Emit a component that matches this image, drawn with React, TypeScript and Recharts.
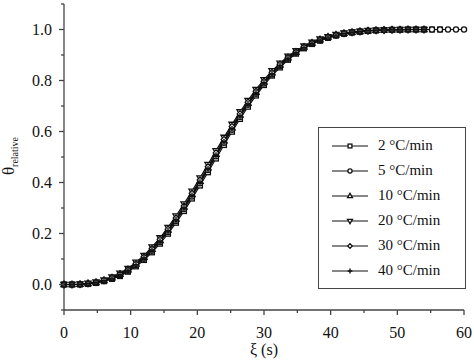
import { LineChart, Line, XAxis, YAxis, Legend } from "recharts"

const XS = [
  0, 1.2, 2.4, 3.6, 4.8, 6, 7.2, 8.4, 9.6, 10.8, 12, 13.2, 14.4, 15.6, 16.8, 18, 19.2, 20.4, 21.6, 22.8, 24, 25.2,
  26.4, 27.6, 28.8, 30, 31.2, 32.4, 33.6, 34.8, 36, 37.2, 38.4, 39.6, 40.8, 42, 43.2, 44.4, 45.6, 46.8, 48, 49.2,
  50.4, 51.6, 52.8, 54, 55.2, 56.4, 57.6, 58.8, 60,
]

// theta_relative per heating rate
const S2 = [
  0, 0, 0, 0.002, 0.006, 0.013, 0.022, 0.033, 0.05, 0.071, 0.096, 0.126, 0.16, 0.199, 0.242, 0.288, 0.337, 0.388,
  0.44, 0.494, 0.547, 0.599, 0.649, 0.697, 0.741, 0.782, 0.819, 0.851, 0.881, 0.905, 0.926, 0.943, 0.956, 0.967,
  0.976, 0.983, 0.988, 0.991, 0.994, 0.996, 0.998, 0.999, 0.999, 1, 1, 1, 1, 1,
]
const S5 = [
  0, 0, 0.001, 0.003, 0.007, 0.014, 0.024, 0.036, 0.054, 0.076, 0.101, 0.132, 0.167, 0.206, 0.249, 0.296, 0.345,
  0.397, 0.449, 0.503, 0.556, 0.607, 0.657, 0.705, 0.748, 0.788, 0.824, 0.857, 0.885, 0.909, 0.929, 0.945, 0.958,
  0.969, 0.977, 0.984, 0.988, 0.992, 0.995, 0.997, 0.998, 0.999, 0.999, 1, 1, 1, 1, 1, 1, 1, 1,
]
const S10 = [
  0, 0, 0.001, 0.004, 0.008, 0.016, 0.026, 0.04, 0.058, 0.08, 0.107, 0.138, 0.173, 0.214, 0.257, 0.304, 0.353,
  0.405, 0.458, 0.511, 0.564, 0.615, 0.665, 0.711, 0.754, 0.794, 0.83, 0.861, 0.889, 0.911, 0.931, 0.947, 0.96,
  0.971, 0.979, 0.985, 0.989, 0.992, 0.995, 0.997, 0.998, 0.999, 0.999, 1, 1, 1,
]
const S20 = [
  0, 0, 0.002, 0.005, 0.01, 0.018, 0.029, 0.044, 0.063, 0.087, 0.114, 0.147, 0.183, 0.224, 0.269, 0.316, 0.366,
  0.418, 0.471, 0.525, 0.577, 0.628, 0.677, 0.722, 0.765, 0.803, 0.838, 0.868, 0.895, 0.917, 0.935, 0.95, 0.963,
  0.972, 0.98, 0.986, 0.99, 0.993, 0.996, 0.997, 0.998, 0.999, 1, 1, 1, 1,
]
const S30 = [
  0, 0, 0.001, 0.004, 0.009, 0.017, 0.027, 0.041, 0.059, 0.082, 0.109, 0.141, 0.177, 0.217, 0.261, 0.308, 0.358,
  0.41, 0.462, 0.516, 0.569, 0.62, 0.669, 0.715, 0.758, 0.797, 0.832, 0.864, 0.891, 0.913, 0.932, 0.948, 0.961,
  0.971, 0.979, 0.985, 0.989, 0.993, 0.995, 0.997, 0.998, 0.999, 0.999, 1, 1, 1,
]
const S40 = [
  0, 0, 0.001, 0.003, 0.008, 0.015, 0.025, 0.038, 0.056, 0.078, 0.104, 0.135, 0.17, 0.21, 0.253, 0.3, 0.349, 0.401,
  0.453, 0.507, 0.56, 0.611, 0.661, 0.708, 0.751, 0.791, 0.827, 0.859, 0.887, 0.91, 0.93, 0.946, 0.959, 0.97, 0.978,
  0.984, 0.989, 0.992, 0.995, 0.997, 0.998, 0.999, 0.999, 1, 1, 1,
]

const SERIES = [
  { key: "s2", label: "2 °C/min", values: S2, shape: "square" },
  { key: "s5", label: "5 °C/min", values: S5, shape: "circle" },
  { key: "s10", label: "10 °C/min", values: S10, shape: "triangle" },
  { key: "s20", label: "20 °C/min", values: S20, shape: "triangleDown" },
  { key: "s30", label: "30 °C/min", values: S30, shape: "diamond" },
  { key: "s40", label: "40 °C/min", values: S40, shape: "cross" },
]

const X_TICKS = [0, 5, 10, 15, 20, 25, 30, 35, 40, 45, 50, 55, 60]
const Y_TICKS = [-0.1, 0, 0.1, 0.2, 0.3, 0.4, 0.5, 0.6, 0.7, 0.8, 0.9, 1.0, 1.1]

const data = XS.map((x, i) => {
  const row: Record<string, number | undefined> = { x }
  SERIES.forEach((s) => {
    row[s.key] = s.values[i]
  })
  return row
})

const FONT = "'Liberation Serif', 'DejaVu Serif', serif"
const INK = "#111"
const AXIS = "#444"

function Marker({ cx, cy, shape, k = 1 }: { cx: number; cy: number; shape: string; k?: number }) {
  const common = { fill: "#fff", stroke: INK, strokeWidth: 1.3 }
  switch (shape) {
    case "square":
      return <rect x={cx - 2.4 * k} y={cy - 2.4 * k} width={4.8 * k} height={4.8 * k} {...common} />
    case "circle":
      return <circle cx={cx} cy={cy} r={2.6 * k} {...common} />
    case "triangle":
      return (
        <path
          d={`M${cx},${cy - 3.3 * k}L${cx + 3.1 * k},${cy + 2.1 * k}L${cx - 3.1 * k},${cy + 2.1 * k}Z`}
          {...common}
        />
      )
    case "triangleDown":
      return (
        <path
          d={`M${cx},${cy + 3.3 * k}L${cx + 3.1 * k},${cy - 2.1 * k}L${cx - 3.1 * k},${cy - 2.1 * k}Z`}
          {...common}
        />
      )
    case "diamond":
      return (
        <path d={`M${cx},${cy - 3 * k}L${cx + 2.8 * k},${cy}L${cx},${cy + 3 * k}L${cx - 2.8 * k},${cy}Z`} {...common} />
      )
    default:
      return (
        <path
          d={`M${cx - 3 * k},${cy}H${cx + 3 * k}M${cx},${cy - 3 * k}V${cy + 3 * k}`}
          stroke={INK}
          strokeWidth={1.4}
          fill="none"
        />
      )
  }
}

function XTick({ x, y, payload }: any) {
  const v = payload.value
  const major = v % 10 === 0
  return (
    <g>
      <line x1={x} x2={x} y1={y} y2={y + (major ? 5 : 3)} stroke={AXIS} strokeWidth={1.3} />
      {major && (
        <text x={x} y={y + 28} textAnchor="middle" fontFamily={FONT} fontSize={16} fill={INK}>
          {v}
        </text>
      )}
    </g>
  )
}

function YTick({ x, y, payload }: any) {
  const v = payload.value
  const n = Math.round(v * 10)
  const major = n % 2 === 0 && n >= 0 && n <= 10
  return (
    <g>
      <line x1={x} x2={x - (major ? 5 : 3)} y1={y} y2={y} stroke={AXIS} strokeWidth={1.3} />
      {major && (
        <text x={x - 12} y={y + 5.5} textAnchor="end" fontFamily={FONT} fontSize={16} fill={INK}>
          {(n / 10).toFixed(1)}
        </text>
      )}
    </g>
  )
}

function LegendBox() {
  return (
    <div
      style={{
        border: `1px solid ${AXIS}`,
        background: "#fff",
        padding: "5px 0",
        width: 146,
        boxSizing: "content-box",
        fontFamily: FONT,
        fontSize: 15,
        color: INK,
      }}
    >
      {SERIES.map((s) => (
        <div key={s.key} style={{ height: 25, display: "flex", alignItems: "center" }}>
          <svg width={36} height={12} style={{ marginLeft: 13, marginRight: 10 }}>
            <line x1={0} x2={36} y1={6} y2={6} stroke={INK} strokeWidth={1} />
            <Marker cx={18} cy={6} shape={s.shape} k={0.8} />
          </svg>
          <span>{s.label}</span>
        </div>
      ))}
    </div>
  )
}

export default function App() {
  return (
    <div style={{ position: "absolute", left: 0, top: 0, background: "#fff" }}>
      <LineChart width={474} height={362} data={data} margin={{ top: 4, right: 10, bottom: 0, left: 0 }}>
        <XAxis
          dataKey="x"
          type="number"
          domain={[0, 60]}
          ticks={X_TICKS}
          interval={0}
          tickSize={0}
          tickMargin={0}
          tickLine={false}
          tick={<XTick />}
          height={52}
          axisLine={{ stroke: AXIS, strokeWidth: 1.3 }}
          label={{
            content: () => (
              <text x={264} y={355} textAnchor="middle" fontFamily={FONT} fontSize={16} fill={INK}>
                ξ (s)
              </text>
            ),
          }}
        />
        <YAxis
          type="number"
          domain={[-0.1, 1.1]}
          ticks={Y_TICKS}
          interval={0}
          tickSize={0}
          tickMargin={0}
          tickLine={false}
          tick={<YTick />}
          width={64}
          axisLine={{ stroke: AXIS, strokeWidth: 1.3 }}
          label={{
            content: () => (
              <text
                x={14}
                y={156}
                transform="rotate(-90, 14, 156)"
                textAnchor="middle"
                fontFamily={FONT}
                fontSize={17}
                fill={INK}
              >
                θ
                <tspan fontSize={10} dy={4}>
                  relative
                </tspan>
              </text>
            ),
          }}
        />
        <Legend
          layout="vertical"
          align="center"
          verticalAlign="middle"
          content={() => <LegendBox />}
          wrapperStyle={{ position: "absolute", left: 318, top: 127, width: "auto", bottom: "auto", margin: 0 }}
        />
        {SERIES.map((s) => (
          <Line
            key={s.key}
            dataKey={s.key}
            stroke={INK}
            strokeWidth={1.2}
            isAnimationActive={false}
            legendType="none"
            dot={(p: any) =>
              p.cx == null || p.cy == null || p.value == null ? (
                <g key={`${s.key}-${p.index}`} />
              ) : (
                <g key={`${s.key}-${p.index}`}>
                  <Marker cx={p.cx} cy={p.cy} shape={s.shape} />
                </g>
              )
            }
          />
        ))}
      </LineChart>
    </div>
  )
}
